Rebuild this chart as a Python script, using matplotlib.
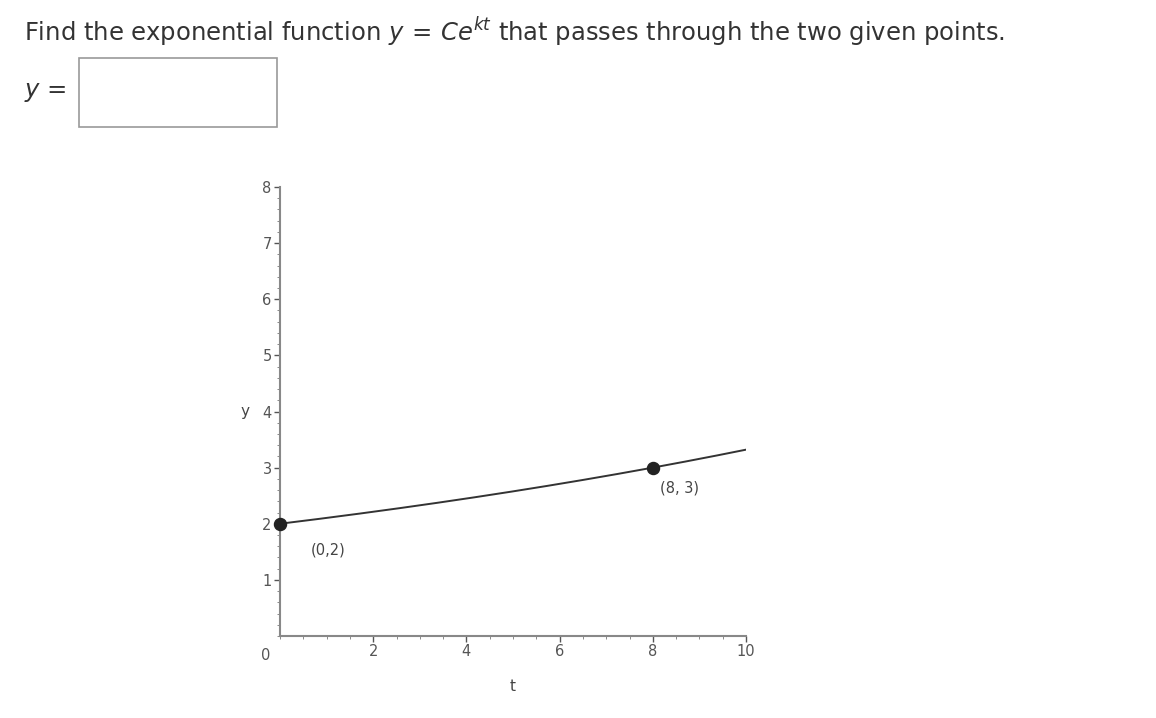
import matplotlib.pyplot as plt
import numpy as np
from matplotlib.patches import Rectangle

# given points
pt_t = [0, 8]
pt_y = [2, 3]
pt_labels = ['(0,2)', '(8, 3)']
x_ticks = [2, 4, 6, 8, 10]
y_ticks = [1, 2, 3, 4, 5, 6, 7, 8]

C = pt_y[0]
k = np.log(pt_y[1] / pt_y[0]) / pt_t[1]
t = np.linspace(0, 10, 200)
y = C * np.exp(k * t)

fig = plt.figure(figsize=(11.56, 7.18), dpi=100)

# question text
fig.text(24 / 1156, 1 - 32 / 718, r'Find the exponential function $y\,=\,Ce^{kt}$ that passes through the two given points.',
         fontsize=17.5, color='#333333', va='center', ha='left', family='DejaVu Sans')
fig.text(24 / 1156, 1 - 92 / 718, r'$y$ =', fontsize=17.5, color='#333333', va='center', ha='left')
fig.patches.append(Rectangle((79 / 1156, 1 - 127 / 718), 198 / 1156, 69 / 718,
                             transform=fig.transFigure, fill=False, edgecolor='#999999', lw=1.2))

ax = fig.add_axes([280 / 1156, 1 - 636 / 718, 466 / 1156, 449 / 718])
ax.plot(t, y, color='#333333', lw=1.4)
ax.scatter(pt_t, pt_y, s=75, color='#222222', zorder=5, clip_on=False)
ax.annotate(pt_labels[0], (pt_t[0], pt_y[0]), xytext=(22, -22), textcoords='offset points',
            fontsize=10.5, color='#444444')
ax.annotate(pt_labels[1], (pt_t[1], pt_y[1]), xytext=(5, -18), textcoords='offset points',
            fontsize=10.5, color='#444444')

ax.set_xlim(0, 10)
ax.set_ylim(0, 8)
ax.set_xticks(x_ticks)
ax.set_yticks(y_ticks)
ax.set_xticks(np.arange(0, 10.01, 0.5), minor=True)
ax.set_yticks(np.arange(0, 8.01, 0.2), minor=True)
ax.tick_params(colors='#555555', labelsize=10.5, length=4, width=1, pad=2)
ax.tick_params(which='minor', length=2, color='#777777')
for s in ['top', 'right']:
    ax.spines[s].set_visible(False)
for s in ['left', 'bottom']:
    ax.spines[s].set_color('#888888')
    ax.spines[s].set_linewidth(1.5)
ax.text(-0.65, 4, 'y', fontsize=11, color='#444444', va='center', ha='right')
ax.text(-0.3, -0.35, '0', fontsize=10.5, color='#555555', va='center', ha='center')
ax.set_xlabel('t', fontsize=11, color='#444444', labelpad=14)

fig.savefig('out.png', dpi=100)
